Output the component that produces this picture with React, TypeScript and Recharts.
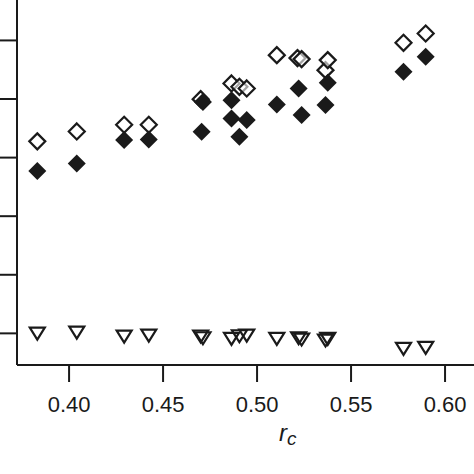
import React from 'react'
import { ScatterChart, Scatter, XAxis, YAxis } from 'recharts'

// open diamonds
const openX = [0.3831, 0.4041, 0.4293, 0.4424, 0.4700, 0.4864, 0.4906, 0.4945, 0.5105, 0.5215, 0.5237, 0.5364, 0.5376, 0.5779, 0.5897]
const openY = [3.277, 3.447, 3.56, 3.56, 3.998, 4.266, 4.208, 4.181, 4.749, 4.698, 4.681, 4.493, 4.664, 4.959, 5.119]

// filled diamonds
const filledX = [0.3831, 0.4041, 0.4293, 0.4424, 0.4712, 0.4705, 0.4864, 0.4864, 0.4945, 0.4906, 0.5105, 0.5221, 0.5237, 0.5364, 0.5376, 0.5779, 0.5897]
const filledY = [2.77, 2.901, 3.299, 3.311, 3.947, 3.44, 3.981, 3.669, 3.64, 3.355, 3.908, 4.181, 3.725, 3.896, 4.276, 4.464, 4.72]

// open down-triangles
const triX = [0.3831, 0.4041, 0.4293, 0.4424, 0.4700, 0.4712, 0.4864, 0.4906, 0.4945, 0.5105, 0.5221, 0.5237, 0.5364, 0.5376, 0.5779, 0.5897]
const triY = [0.005, 0.022, -0.046, -0.029, -0.045, -0.075, -0.085, -0.041, -0.029, -0.085, -0.075, -0.097, -0.114, -0.085, -0.256, -0.239]

const xTicks = [0.4, 0.45, 0.5, 0.55, 0.6]
const yTicks = [0, 1, 2, 3, 4, 5]

const toPoints = (xs: number[], ys: number[]) => xs.map((x, i) => ({ x, y: ys[i] }))
const openData = toPoints(openX, openY)
const filledData = toPoints(filledX, filledY)
const triData = toPoints(triX, triY)

const INK = '#1a1a1a'
const FONT = '"Liberation Sans", Arial, sans-serif'

const OpenDiamond = (p: any) => {
    const { cx, cy } = p
    const r = 8
    return <polygon points={`${cx},${cy - r} ${cx + r},${cy} ${cx},${cy + r} ${cx - r},${cy}`} fill="#fff" fillOpacity={0.6} stroke={INK} strokeWidth={2.2} />
}

const FilledDiamond = (p: any) => {
    const { cx, cy } = p
    const r = 9
    return <polygon points={`${cx},${cy - r} ${cx + r},${cy} ${cx},${cy + r} ${cx - r},${cy}`} fill={INK} stroke="none" />
}

const DownTriangle = (p: any) => {
    const { cx, cy } = p
    return <polygon points={`${cx - 7.5},${cy - 5.5} ${cx + 7.5},${cy - 5.5} ${cx},${cy + 6.5}`} fill="none" stroke={INK} strokeWidth={2.2} strokeLinejoin="miter" />
}

const AxisTitle = () => (
    <text x={279} y={441} fill={INK} fontFamily={FONT} fontStyle="italic">
        <tspan fontSize={24}>r</tspan>
        <tspan fontSize={19} dy={4}>c</tspan>
    </text>
)

export default function App() {
    return (
        <div style={{ position: 'absolute', left: 0, top: 0, background: '#fff' }}>
            <ScatterChart width={474} height={474} margin={{ top: 0, right: 0, bottom: 0, left: 0 }}>
                <XAxis
                    type="number"
                    dataKey="x"
                    domain={[0.3723, 0.6154]}
                    allowDataOverflow
                    ticks={xTicks}
                    tickFormatter={(v: number) => v.toFixed(2)}
                    tickSize={17}
                    tickMargin={14}
                    height={109}
                    axisLine={{ stroke: INK, strokeWidth: 2 }}
                    tickLine={{ stroke: INK, strokeWidth: 2 }}
                    tick={{ fill: INK, fontSize: 22, fontFamily: FONT }}
                    label={{ content: () => <AxisTitle /> }}
                />
                <YAxis
                    type="number"
                    dataKey="y"
                    domain={[-0.54, 5.69]}
                    allowDataOverflow
                    ticks={yTicks}
                    tickSize={17}
                    width={17}
                    axisLine={{ stroke: INK, strokeWidth: 2 }}
                    tickLine={{ stroke: INK, strokeWidth: 2 }}
                    tick={() => <g />}
                />
                <Scatter data={openData} shape={OpenDiamond} isAnimationActive={false} />
                <Scatter data={filledData} shape={FilledDiamond} isAnimationActive={false} />
                <Scatter data={triData} shape={DownTriangle} isAnimationActive={false} />
            </ScatterChart>
        </div>
    )
}
